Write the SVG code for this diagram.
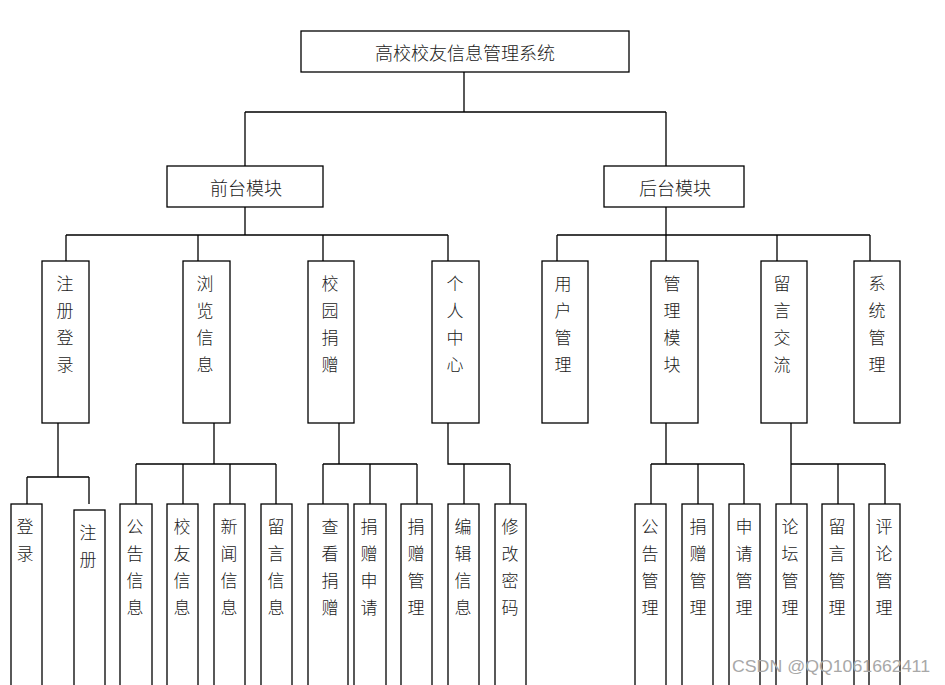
<svg xmlns="http://www.w3.org/2000/svg" width="945" height="685" viewBox="0 0 945 685">
<style>
.box{fill:#fff;stroke:#000;stroke-width:1.3}
.ln{fill:none;stroke:#000;stroke-width:1.3}
text{font-family:"Noto Sans CJK SC","Noto Sans CJK JP",sans-serif;font-weight:300;fill:#1a1a1a;text-anchor:middle;dominant-baseline:central}
.h{font-size:18px}
.v{font-size:17px}
.wm{font-family:"Liberation Sans",Arial,sans-serif;font-weight:400;font-size:17px;fill:#a8a8a8;text-anchor:start;dominant-baseline:auto}
</style>
<rect width="945" height="685" fill="#fff"/>
<g id="connectors">
<path class="ln" d="M464 72V112M245 112H666M245 112V166M666 112V166"/>
<path class="ln" d="M245 207V235M66 235H448M66 235V261M198 235V261M323 235V261M448 235V261"/>
<path class="ln" d="M666 207V235M557 235H870M557 235V261M666 235V261M777 235V261M870 235V261"/>
<path class="ln" d="M58 423V477M27 477H89M27 477V504M89 477V504"/>
<path class="ln" d="M214 423V464M136 464H276M136 464V504M183 464V504M230 464V504M276 464V504"/>
<path class="ln" d="M339 423V464M323 464H417M323 464V504M370 464V504M417 464V504"/>
<path class="ln" d="M448 423V464H510M464 464V504M510 464V504"/>
<path class="ln" d="M666 423V464M651 464H744M651 464V504M698 464V504M744 464V504"/>
<path class="ln" d="M791 423V464H885M791 464V504M838 464V504M885 464V504"/>
</g>
<g id="root"><rect class="box" x="301" y="31" width="328" height="41"/><text class="h" x="465" y="52">高校校友信息管理系统</text></g>
<g id="front"><rect class="box" x="167" y="166" width="156" height="41"/><text class="h" x="246" y="187">前台模块</text></g>
<g id="back"><rect class="box" x="604" y="166" width="140" height="41"/><text class="h" x="675" y="187">后台模块</text></g>

<g id="zcdl"><rect class="box" x="42" y="261" width="47" height="162"/><text class="v" x="65"><tspan y="282">注</tspan><tspan x="65" y="309">册</tspan><tspan x="65" y="336">登</tspan><tspan x="65" y="363">录</tspan></text></g>
<g id="llxx"><rect class="box" x="183" y="261" width="47" height="162"/><text class="v" x="205"><tspan y="282">浏</tspan><tspan x="205" y="309">览</tspan><tspan x="205" y="336">信</tspan><tspan x="205" y="363">息</tspan></text></g>
<g id="xyjz"><rect class="box" x="308" y="261" width="46" height="162"/><text class="v" x="330"><tspan y="282">校</tspan><tspan x="330" y="309">园</tspan><tspan x="330" y="336">捐</tspan><tspan x="330" y="363">赠</tspan></text></g>
<g id="grzx"><rect class="box" x="432" y="261" width="47" height="162"/><text class="v" x="455"><tspan y="282">个</tspan><tspan x="455" y="309">人</tspan><tspan x="455" y="336">中</tspan><tspan x="455" y="363">心</tspan></text></g>
<g id="yhgl"><rect class="box" x="542" y="261" width="46" height="162"/><text class="v" x="563"><tspan y="282">用</tspan><tspan x="563" y="309">户</tspan><tspan x="563" y="336">管</tspan><tspan x="563" y="363">理</tspan></text></g>
<g id="glmk"><rect class="box" x="651" y="261" width="47" height="162"/><text class="v" x="672"><tspan y="282">管</tspan><tspan x="672" y="309">理</tspan><tspan x="672" y="336">模</tspan><tspan x="672" y="363">块</tspan></text></g>
<g id="lyjl"><rect class="box" x="761" y="261" width="46" height="162"/><text class="v" x="782"><tspan y="282">留</tspan><tspan x="782" y="309">言</tspan><tspan x="782" y="336">交</tspan><tspan x="782" y="363">流</tspan></text></g>
<g id="xtgl"><rect class="box" x="854" y="261" width="46" height="162"/><text class="v" x="877"><tspan y="282">系</tspan><tspan x="877" y="309">统</tspan><tspan x="877" y="336">管</tspan><tspan x="877" y="363">理</tspan></text></g>

<g id="dl"><rect class="box" x="11" y="504" width="31" height="200"/><text class="v" x="25"><tspan y="525">登</tspan><tspan x="25" y="552">录</tspan></text></g>
<g id="zc"><rect class="box" x="74" y="510" width="31" height="200"/><text class="v" x="88"><tspan y="531">注</tspan><tspan x="88" y="558">册</tspan></text></g>
<g id="ggxx"><rect class="box" x="120" y="504" width="32" height="200"/><text class="v" x="135"><tspan y="525">公</tspan><tspan x="135" y="552">告</tspan><tspan x="135" y="579">信</tspan><tspan x="135" y="606">息</tspan></text></g>
<g id="xyxx"><rect class="box" x="167" y="504" width="31" height="200"/><text class="v" x="182"><tspan y="525">校</tspan><tspan x="182" y="552">友</tspan><tspan x="182" y="579">信</tspan><tspan x="182" y="606">息</tspan></text></g>
<g id="xwxx"><rect class="box" x="214" y="504" width="31" height="200"/><text class="v" x="229"><tspan y="525">新</tspan><tspan x="229" y="552">闻</tspan><tspan x="229" y="579">信</tspan><tspan x="229" y="606">息</tspan></text></g>
<g id="lyxx"><rect class="box" x="261" y="504" width="31" height="200"/><text class="v" x="276"><tspan y="525">留</tspan><tspan x="276" y="552">言</tspan><tspan x="276" y="579">信</tspan><tspan x="276" y="606">息</tspan></text></g>
<g id="ckjz"><rect class="box" x="308" y="504" width="40" height="200"/><text class="v" x="330"><tspan y="525">查</tspan><tspan x="330" y="552">看</tspan><tspan x="330" y="579">捐</tspan><tspan x="330" y="606">赠</tspan></text></g>
<g id="jzsq"><rect class="box" x="354" y="504" width="32" height="200"/><text class="v" x="369"><tspan y="525">捐</tspan><tspan x="369" y="552">赠</tspan><tspan x="369" y="579">申</tspan><tspan x="369" y="606">请</tspan></text></g>
<g id="jzgl"><rect class="box" x="401" y="504" width="31" height="200"/><text class="v" x="416"><tspan y="525">捐</tspan><tspan x="416" y="552">赠</tspan><tspan x="416" y="579">管</tspan><tspan x="416" y="606">理</tspan></text></g>
<g id="bjxx"><rect class="box" x="448" y="504" width="31" height="200"/><text class="v" x="463"><tspan y="525">编</tspan><tspan x="463" y="552">辑</tspan><tspan x="463" y="579">信</tspan><tspan x="463" y="606">息</tspan></text></g>
<g id="xgmm"><rect class="box" x="495" y="504" width="31" height="200"/><text class="v" x="510"><tspan y="525">修</tspan><tspan x="510" y="552">改</tspan><tspan x="510" y="579">密</tspan><tspan x="510" y="606">码</tspan></text></g>

<g id="gggl"><rect class="box" x="635" y="504" width="31" height="200"/><text class="v" x="650"><tspan y="525">公</tspan><tspan x="650" y="552">告</tspan><tspan x="650" y="579">管</tspan><tspan x="650" y="606">理</tspan></text></g>
<g id="jzgl2"><rect class="box" x="682" y="504" width="31" height="200"/><text class="v" x="698"><tspan y="525">捐</tspan><tspan x="698" y="552">赠</tspan><tspan x="698" y="579">管</tspan><tspan x="698" y="606">理</tspan></text></g>
<g id="sqgl"><rect class="box" x="729" y="504" width="31" height="200"/><text class="v" x="744"><tspan y="525">申</tspan><tspan x="744" y="552">请</tspan><tspan x="744" y="579">管</tspan><tspan x="744" y="606">理</tspan></text></g>
<g id="ltgl"><rect class="box" x="776" y="504" width="31" height="200"/><text class="v" x="790"><tspan y="525">论</tspan><tspan x="790" y="552">坛</tspan><tspan x="790" y="579">管</tspan><tspan x="790" y="606">理</tspan></text></g>
<g id="lygl"><rect class="box" x="822" y="504" width="32" height="200"/><text class="v" x="837"><tspan y="525">留</tspan><tspan x="837" y="552">言</tspan><tspan x="837" y="579">管</tspan><tspan x="837" y="606">理</tspan></text></g>
<g id="plgl"><rect class="box" x="869" y="504" width="31" height="200"/><text class="v" x="884"><tspan y="525">评</tspan><tspan x="884" y="552">论</tspan><tspan x="884" y="579">管</tspan><tspan x="884" y="606">理</tspan></text></g>

<text class="wm" x="732" y="672" textLength="198" lengthAdjust="spacingAndGlyphs">CSDN @QQ1061662411</text>
</svg>
